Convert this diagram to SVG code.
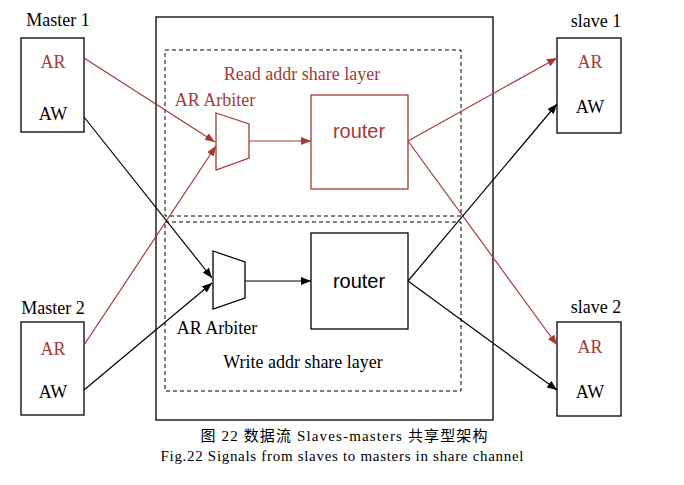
<svg xmlns="http://www.w3.org/2000/svg" width="684" height="485" viewBox="0 0 684 485">
<style>
text{font-family:"Liberation Serif","Noto Sans CJK SC",serif;font-size:18px;text-anchor:middle}
.r{fill:#a33a35}
.b{fill:#000}
.bx{fill:#fff;stroke:#000;stroke-width:1.3}
.rx{fill:#fff;stroke:#a33a35;stroke-width:1.3}
.d{fill:none;stroke:#000;stroke-dasharray:4 3;stroke-width:1}
.lr{stroke:#a33a35;stroke-width:1.2;fill:none}
.lb{stroke:#000;stroke-width:1.2;fill:none}
.cap{font-size:15px}
.rt{font-family:"Liberation Sans",sans-serif;font-size:20px}
</style>
<defs>
<marker id="ar" markerWidth="10" markerHeight="8" refX="10" refY="4" orient="auto" markerUnits="userSpaceOnUse"><path d="M0,0L10,4L0,8z" fill="#a33a35"/></marker>
<marker id="ab" markerWidth="10" markerHeight="8" refX="10" refY="4" orient="auto" markerUnits="userSpaceOnUse"><path d="M0,0L10,4L0,8z" fill="#000"/></marker>
</defs>
<rect width="684" height="485" fill="#fff"/>
<rect x="156" y="17" width="337" height="403" class="bx"/>
<rect x="165" y="50" width="296" height="166" class="d"/>
<rect x="165" y="222" width="296" height="169" class="d"/>
<g id="master1"><text x="58" y="26">Master  1</text><rect x="21" y="38" width="63" height="94" class="bx"/><text x="53" y="68" class="r">AR</text><text x="53" y="120">AW</text></g>
<g id="master2"><text x="53" y="314">Master  2</text><rect x="21" y="322" width="63" height="93" class="bx"/><text x="53" y="355" class="r">AR</text><text x="53" y="398">AW</text></g>
<g id="slave1"><text x="596" y="27">slave  1</text><rect x="557" y="38" width="64" height="95" class="bx"/><text x="590" y="68" class="r">AR</text><text x="590" y="113">AW</text></g>
<g id="slave2"><text x="596" y="313">slave  2</text><rect x="557" y="322" width="64" height="94" class="bx"/><text x="590" y="353" class="r">AR</text><text x="590" y="398">AW</text></g>
<g id="read-layer"><text x="302" y="80" class="r">Read addr share layer</text></g>
<g id="arb1"><text x="215" y="106" class="r">AR Arbiter</text><polygon points="216,113 249,124 249,158 216,170" class="rx"/></g>
<g id="router1"><rect x="311" y="95" width="97" height="94" class="rx"/><text x="359" y="138" class="r rt">router</text></g>
<g id="arb2"><polygon points="213,251 245,262 245,298 213,309" class="bx"/><text x="217" y="334">AR Arbiter</text></g>
<g id="router2"><rect x="311" y="233" width="97" height="96" class="bx"/><text x="359" y="288" class="rt">router</text></g>
<g id="write-layer"><text x="303" y="368">Write addr share layer</text></g>
<g id="connectors">
<line x1="84" y1="58" x2="215" y2="142" class="lr" marker-end="url(#ar)"/>
<line x1="84" y1="345" x2="216" y2="146" class="lr" marker-end="url(#ar)"/>
<line x1="84" y1="117" x2="212" y2="278" class="lb" marker-end="url(#ab)"/>
<line x1="84" y1="390" x2="212" y2="283" class="lb" marker-end="url(#ab)"/>
<line x1="249" y1="141" x2="311" y2="141" class="lr" marker-end="url(#ar)"/>
<line x1="245" y1="281" x2="311" y2="281" class="lb" marker-end="url(#ab)"/>
<line x1="408" y1="141" x2="557" y2="58" class="lr" marker-end="url(#ar)"/>
<line x1="408" y1="141" x2="557" y2="345" class="lr" marker-end="url(#ar)"/>
<line x1="408" y1="281" x2="557" y2="104" class="lb" marker-end="url(#ab)"/>
<line x1="408" y1="281" x2="557" y2="390" class="lb" marker-end="url(#ab)"/>
</g>
<text x="344" y="441" class="cap" textLength="287" lengthAdjust="spacing">图 22  数据流 Slaves-masters 共享型架构</text>
<text x="342" y="461" class="cap" textLength="363" lengthAdjust="spacing">Fig.22 Signals from slaves to masters in share channel</text>
</svg>
